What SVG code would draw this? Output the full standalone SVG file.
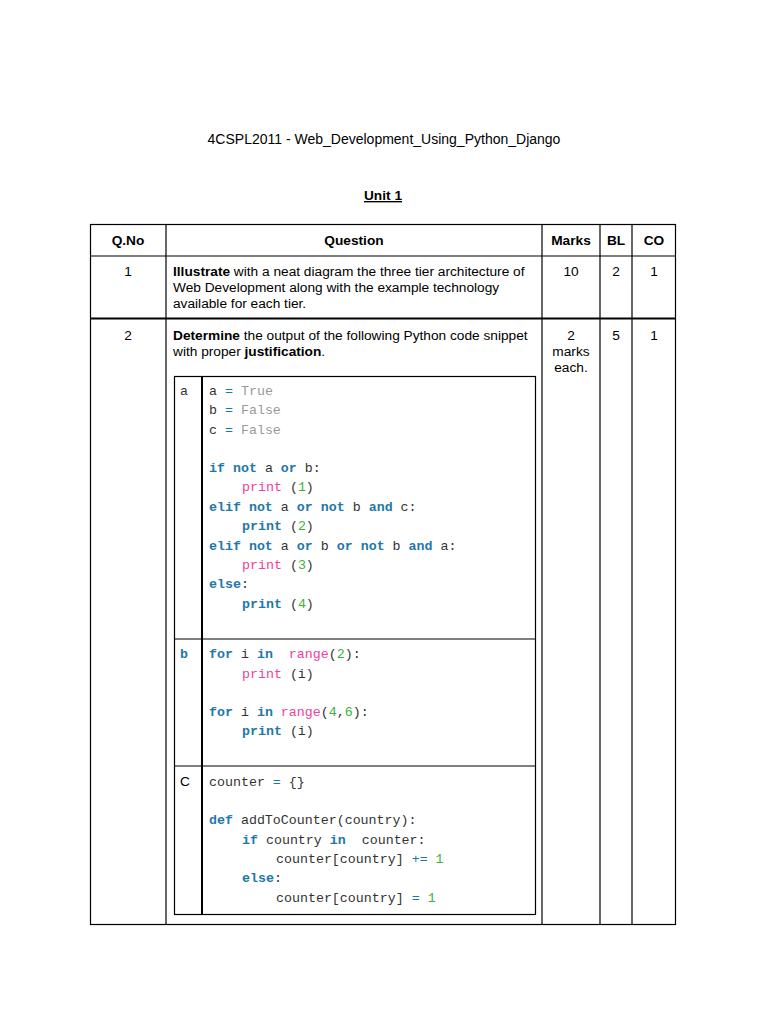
<svg xmlns="http://www.w3.org/2000/svg" width="768" height="1024" viewBox="0 0 768 1024">
<style>
.t{font-family:"Liberation Sans",Arial,sans-serif;font-size:13.7px;fill:#000}
.b{font-weight:bold}
.m{font-family:"Liberation Mono","Courier New",monospace;font-size:13.3px;fill:#333}
.k{fill:#1f78a8;font-weight:bold}
.o{fill:#1f78a8}
.p{fill:#f0409c}
.n{fill:#3cb03c}
.g{fill:#999}
.l{stroke:#000;stroke-width:1.2;fill:none}
.L{stroke:#000;stroke-width:2;fill:none}
</style>
<rect width="768" height="1024" fill="#fff"/>
<text class="t" x="384" y="144" text-anchor="middle" style="font-size:14px">4CSPL2011 - Web_Development_Using_Python_Django</text>
<text class="t b" x="383" y="200" text-anchor="middle" text-decoration="underline">Unit 1</text>
<g id="table">
<rect class="l" x="90.5" y="224.5" width="585" height="700"/>
<line class="l" x1="90" y1="256" x2="676" y2="256"/>
<line class="L" x1="90" y1="318.5" x2="676" y2="318.5"/>
<line class="l" x1="166" y1="224" x2="166" y2="925"/>
<line class="l" x1="542" y1="224" x2="542" y2="925"/>
<line class="l" x1="600" y1="224" x2="600" y2="925"/>
<line class="l" x1="632" y1="224" x2="632" y2="925"/>
<text class="t b" x="128" y="245" text-anchor="middle">Q.No</text>
<text class="t b" x="354" y="245" text-anchor="middle">Question</text>
<text class="t b" x="571" y="245" text-anchor="middle">Marks</text>
<text class="t b" x="616" y="245" text-anchor="middle">BL</text>
<text class="t b" x="654" y="245" text-anchor="middle">CO</text>
<text class="t" x="128" y="276" text-anchor="middle">1</text>
<text class="t" x="173" y="276"><tspan class="b">Illustrate</tspan> with a neat diagram the three tier architecture of</text>
<text class="t" x="173" y="292">Web Development along with the example technology</text>
<text class="t" x="173" y="308">available for each tier.</text>
<text class="t" x="571" y="276" text-anchor="middle">10</text>
<text class="t" x="616" y="276" text-anchor="middle">2</text>
<text class="t" x="654" y="276" text-anchor="middle">1</text>
<text class="t" x="128" y="340" text-anchor="middle">2</text>
<text class="t" x="173" y="340"><tspan class="b">Determine</tspan> the output of the following Python code snippet</text>
<text class="t" x="173" y="356">with proper <tspan class="b">justification</tspan>.</text>
<text class="t" x="571" y="340" text-anchor="middle">2</text>
<text class="t" x="571" y="356" text-anchor="middle">marks</text>
<text class="t" x="571" y="372" text-anchor="middle">each.</text>
<text class="t" x="616" y="340" text-anchor="middle">5</text>
<text class="t" x="654" y="340" text-anchor="middle">1</text>
</g>
<g id="code">
<rect class="l" x="174.5" y="376.5" width="361" height="538"/>
<line class="L" x1="202" y1="376" x2="202" y2="915"/>
<line class="l" x1="174" y1="639" x2="536" y2="639"/>
<line class="l" x1="174" y1="766" x2="536" y2="766"/>
<text class="m" x="180" y="395">a</text>
<text class="m" xml:space="preserve" x="209" y="395">a <tspan class="o">=</tspan> <tspan class="g">True</tspan></text>
<text class="m" xml:space="preserve" x="209" y="414">b <tspan class="o">=</tspan> <tspan class="g">False</tspan></text>
<text class="m" xml:space="preserve" x="209" y="434">c <tspan class="o">=</tspan> <tspan class="g">False</tspan></text>
<text class="m" xml:space="preserve" x="209" y="472"><tspan class="k">if</tspan> <tspan class="k">not</tspan> a <tspan class="k">or</tspan> b:</text>
<text class="m" xml:space="preserve" x="242" y="491"><tspan class="p">print</tspan> (<tspan class="n">1</tspan>)</text>
<text class="m" xml:space="preserve" x="209" y="511"><tspan class="k">elif</tspan> <tspan class="k">not</tspan> a <tspan class="k">or</tspan> <tspan class="k">not</tspan> b <tspan class="k">and</tspan> c:</text>
<text class="m" xml:space="preserve" x="242" y="530"><tspan class="k">print</tspan> (<tspan class="n">2</tspan>)</text>
<text class="m" xml:space="preserve" x="209" y="550"><tspan class="k">elif</tspan> <tspan class="k">not</tspan> a <tspan class="k">or</tspan> b <tspan class="k">or</tspan> <tspan class="k">not</tspan> b <tspan class="k">and</tspan> a:</text>
<text class="m" xml:space="preserve" x="242" y="569"><tspan class="p">print</tspan> (<tspan class="n">3</tspan>)</text>
<text class="m" xml:space="preserve" x="209" y="588"><tspan class="k">else</tspan>:</text>
<text class="m" xml:space="preserve" x="242" y="608"><tspan class="k">print</tspan> (<tspan class="n">4</tspan>)</text>
<text class="m k" x="180" y="658">b</text>
<text class="m" xml:space="preserve" x="209" y="658"><tspan class="k">for</tspan> i <tspan class="k">in</tspan>  <tspan class="p">range</tspan>(<tspan class="n">2</tspan>):</text>
<text class="m" xml:space="preserve" x="242" y="678"><tspan class="p">print</tspan> (i)</text>
<text class="m" xml:space="preserve" x="209" y="716"><tspan class="k">for</tspan> i <tspan class="k">in</tspan> <tspan class="p">range</tspan>(<tspan class="n">4</tspan>,<tspan class="n">6</tspan>):</text>
<text class="m" xml:space="preserve" x="242" y="735"><tspan class="k">print</tspan> (i)</text>
<text class="t" x="180" y="786">C</text>
<text class="m" xml:space="preserve" x="209" y="786">counter <tspan class="o">=</tspan> {}</text>
<text class="m" xml:space="preserve" x="209" y="824"><tspan class="k">def</tspan> addToCounter(country):</text>
<text class="m" xml:space="preserve" x="242" y="844"><tspan class="k">if</tspan> country <tspan class="k">in</tspan>  counter:</text>
<text class="m" xml:space="preserve" x="276" y="863">counter[country] <tspan class="o">+=</tspan> <tspan class="n">1</tspan></text>
<text class="m" xml:space="preserve" x="242" y="882"><tspan class="k">else</tspan>:</text>
<text class="m" xml:space="preserve" x="276" y="902">counter[country] <tspan class="o">=</tspan> <tspan class="n">1</tspan></text>
</g>
</svg>
